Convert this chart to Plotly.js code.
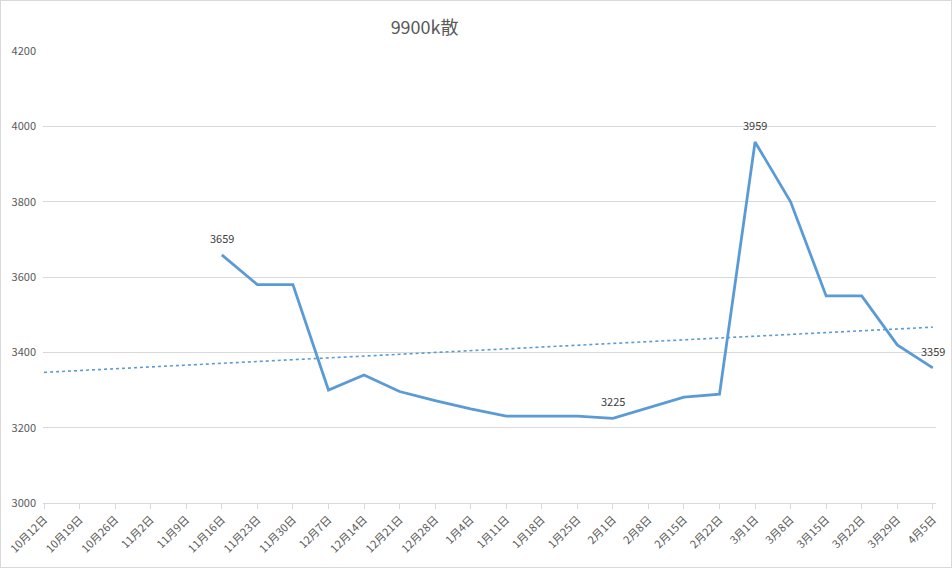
<!DOCTYPE html>
<html>
<head>
<meta charset="utf-8">
<script src="https://cdn.plot.ly/plotly-3.0.1.min.js"></script>
<style>
html,body{margin:0;padding:0;background:#fff;}
#chart{width:952px;height:568px;outline:1px solid #d9d9d9;outline-offset:-1px;}
</style>
</head>
<body>
<div id="chart"></div>
<script>
const categories = ["10月12日","10月19日","10月26日","11月2日","11月9日","11月16日","11月23日","11月30日","12月7日","12月14日","12月21日","12月28日","1月4日","1月11日","1月18日","1月25日","2月1日","2月8日","2月15日","2月22日","3月1日","3月8日","3月15日","3月22日","3月29日","4月5日"];
const prices = [null,null,null,null,null,3659,3580,3580,3300,3340,3296,3272,3250,3231,3231,3231,3225,3252,3281,3289,3959,3800,3550,3550,3420,3359];
const labelled = ["11月16日","2月1日","3月1日","4月5日"];
const trendEnds = [3347,3467];
const yTicks = [3000,3200,3400,3600,3800,4000,4200];

const blue = "#5B9BD5";
const grey = "#595959";
const font = "'Noto Sans CJK SC', 'Noto Sans', sans-serif";

const annotations = labelled.map(c => {
  const i = categories.indexOf(c);
  return {
    x: c, y: prices[i], xref: "x", yref: "y",
    text: String(prices[i]), showarrow: false,
    yshift: 17, xanchor: "center", yanchor: "middle",
    font: {family: font, size: 11, color: "#404040"}
  };
});

const traces = [
  {
    x: [categories[0], categories[categories.length-1]],
    y: trendEnds,
    type: "scatter", mode: "lines",
    line: {color: blue, width: 1.6, dash: "dot"},
    hoverinfo: "skip", showlegend: false
  },
  {
    x: categories, y: prices,
    type: "scatter", mode: "lines",
    line: {color: blue, width: 2.8},
    connectgaps: false, cliponaxis: false,
    showlegend: false
  }
];

const layout = {
  width: 952, height: 568,
  paper_bgcolor: "rgba(0,0,0,0)", plot_bgcolor: "#fff",
  margin: {l: 43, r: 16, t: 51, b: 65},
  font: {family: font, color: grey, size: 11},
  title: {text: "9900k散", x: 0.446, xanchor: "center", y: 0.951, yanchor: "middle",
          font: {family: font, size: 18, color: grey}},
  showlegend: false,
  annotations: annotations,
  xaxis: {
    type: "category", categoryorder: "array", categoryarray: categories,
    range: [-0.03, 25.09],
    tickangle: -45, tickfont: {family: font, size: 11, color: grey},
    showgrid: false, showline: true, linecolor: "#d9d9d9", linewidth: 1,
    ticks: "outside", ticklen: 5, tickcolor: "#d9d9d9", tickwidth: 1,
    zeroline: false, fixedrange: true
  },
  yaxis: {
    range: [3000, 4200.5], tickvals: yTicks, ticktext: yTicks.map(String),
    tickfont: {family: font, size: 11, color: grey},
    showgrid: true, gridcolor: "#d9d9d9", gridwidth: 1,
    showline: false, zeroline: false, ticks: "", ticklabelstandoff: 6,
    fixedrange: true
  }
};

Plotly.newPlot("chart", traces, layout, {displayModeBar: false, staticPlot: true});
</script>
</body>
</html>
